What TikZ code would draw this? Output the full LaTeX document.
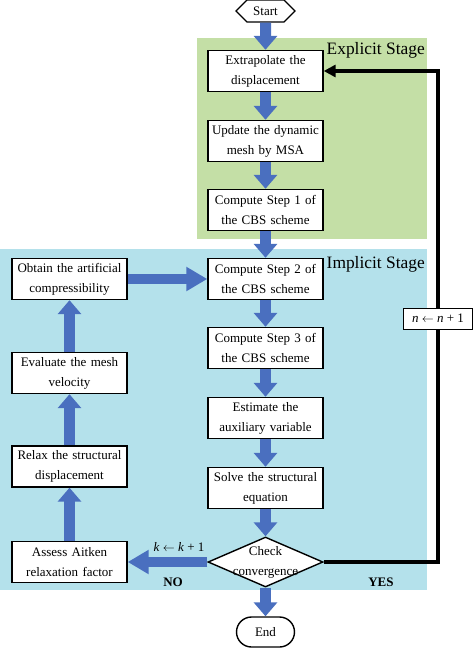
\documentclass[tikz,border=0pt]{standalone}
\usepackage{fontspec}
\setmainfont{Liberation Serif}
\usetikzlibrary{arrows.meta,shapes.geometric,shapes.symbols}
\definecolor{flowblue}{HTML}{4A6FBF}
\definecolor{expgreen}{HTML}{C4DFA6}
\definecolor{impblue}{HTML}{B4E1EB}

\begin{document}
\begin{tikzpicture}[x=1pt,y=-1pt,
    box/.style={draw,line width=1.4pt,fill=white,text width=110pt,minimum height=41pt,inner xsep=2.5pt,inner ysep=0pt,align=center,font=\fontsize{13}{20}\selectfont},
    stage/.style={anchor=east,inner sep=0pt,font=\fontsize{17.4}{20}\selectfont},
    flow/.style={flowblue,line width=11pt,-{Triangle[width=23pt,length=14pt]}},
    loopline/.style={line width=3.5pt},
    lbl/.style={inner sep=0pt,font=\fontsize{13}{15}\selectfont}]
    \useasboundingbox (0,0) rectangle (474,667);
    % stages
    \fill[impblue] (0,249) rectangle (427,590);
    \fill[expgreen] (197,38) rectangle (427,239);
    \node[stage] (explbl) at (425,50) {Explicit Stage};
    \node[stage] (implbl) at (425,264) {Implicit Stage};

    % main column
    \node[draw,line width=1.4pt,fill=white,signal,signal to=west and east,minimum width=59pt,minimum height=22pt,inner sep=0pt,font=\fontsize{13}{15}\selectfont] (start) at (265.5,11) {Start};
    \node[box] (ext) at (265.5,71) {Extrapolate the\\displacement};
    \node[box] (upd) at (265.5,141) {Update the dynamic\\mesh by MSA};
    \node[box] (st1) at (265.5,210) {Compute Step 1 of\\the CBS scheme};
    \node[box] (st2) at (265.5,279) {Compute Step 2 of\\the CBS scheme};
    \node[box] (st3) at (265.5,348) {Compute Step 3 of\\the CBS scheme};
    \node[box] (est) at (265.5,418) {Estimate the\\auxiliary variable};
    \node[box] (sol) at (265.5,488) {Solve the structural\\equation};
    \node[draw,line width=1.4pt,fill=white,diamond,minimum width=115pt,minimum height=50pt,inner sep=0pt] (chk) at (265.5,562) {};
    \node[lbl,align=center,font=\fontsize{13}{20}\selectfont] (chktxt) at (chk) {Check\\convergence};
    \node[draw,line width=1.4pt,rounded corners=15pt,minimum width=58pt,minimum height=30pt,inner sep=0pt,font=\fontsize{13}{15}\selectfont] (fin) at (265.5,632) {End};

    % left column
    \node[box] (obt) at (69.5,279) {Obtain the artificial\\compressibility};
    \node[box] (eva) at (69.5,373) {Evaluate the mesh\\velocity};
    \node[box] (rel) at (69.5,466.5) {Relax the structural\\displacement};
    \node[box] (ass) at (69.5,562) {Assess Aitken\\relaxation factor};

    % outer loop
    \node[draw,thin,fill=white,minimum width=69pt,minimum height=21pt,inner sep=0pt,font=\fontsize{13}{15}\selectfont] (nb) at (438,318.5) {\textit{n} $\leftarrow$ \textit{n} + 1};
    \draw[loopline] (chk.east) -| (nb.south);
    \draw[loopline,-{Triangle[width=12pt,length=12pt]}] (nb.north) |- (ext.east);

    % blue arrows
    \draw[flow] (start) -- (ext);
    \draw[flow] (ext) -- (upd);
    \draw[flow] (upd) -- (st1);
    \draw[flow] (st1) -- (st2);
    \draw[flow] (st2) -- (st3);
    \draw[flow] (st3) -- (est);
    \draw[flow] (est) -- (sol);
    \draw[flow] (sol) -- (chk);
    \draw[flow] (chk) -- (fin);
    \draw[flow,line width=10pt,-{Triangle[width=23pt,length=21pt]}] (chk.west) -- (ass.east);
    \draw[flow] (ass) -- (rel);
    \draw[flow] (rel) -- (eva);
    \draw[flow] (eva) -- (obt);
    \draw[flow,line width=10pt,-{Triangle[width=23pt,length=21pt]}] (obt) -- (st2);

    % branch labels
    \node[lbl] (klbl) at (179,547) {\textit{k} $\leftarrow$ \textit{k} + 1};
    \node[lbl,font=\bfseries\fontsize{13}{15}\selectfont] (nolbl) at (173,582) {NO};
    \node[lbl,font=\bfseries\fontsize{13}{15}\selectfont] (yeslbl) at (381,582) {YES};
\end{tikzpicture}
\end{document}
